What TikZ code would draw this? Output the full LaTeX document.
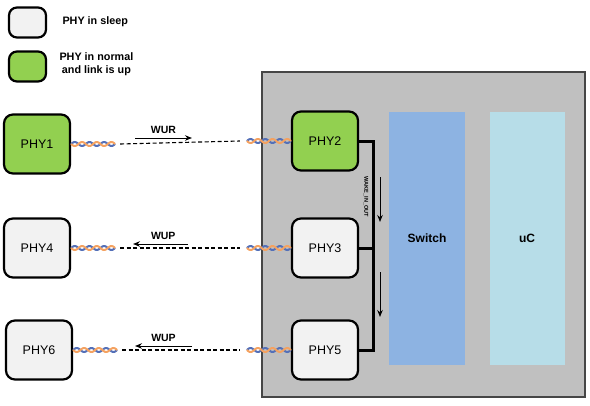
\documentclass[tikz,border=0pt]{standalone}
\usepackage{fontspec}
\setmainfont{Liberation Sans}
\usetikzlibrary{calc, arrows.meta}

\definecolor{boxgray}{HTML}{C0C0C0}
\definecolor{sleepgray}{HTML}{F2F2F2}
\definecolor{linkgreen}{HTML}{92D050}
\definecolor{switchblue}{HTML}{8DB3E2}
\definecolor{ucblue}{HTML}{B7DDE8}
\definecolor{cableorange}{HTML}{F4A261}
\definecolor{cableblue}{HTML}{5470B8}

% twisted pair cable, 44 units long, starting at #1
\newcommand{\twistpair}[1]{
    \begin{scope}[shift={(#1)}]
        \draw[cableblue, line width=2pt] plot[domain=0:44, samples=60, smooth] (\x, {-2*sin(\x*360/14.67)});
        \draw[cableorange, line width=2pt] plot[domain=0:44, samples=60, smooth] (\x, {2*sin(\x*360/14.67)});
    \end{scope}
}

\begin{document}
\begin{tikzpicture}[x=1pt, y=-1pt,
    phy/.style={draw, line width=2.2pt, rounded corners=9pt, minimum width=66pt, minimum height=59pt,
        font=\fontsize{12.5}{14}\selectfont},
    sleep/.style={phy, fill=sleepgray},
    awake/.style={phy, fill=linkgreen},
    legbox/.style={draw, line width=2.2pt, rounded corners=8pt, minimum width=37pt, minimum height=30pt},
    legtext/.style={font=\fontsize{10.8}{13.5}\selectfont\bfseries, align=center},
    wire/.style={dash pattern=on 4pt off 2.5pt, line width=1.1pt},
    signal/.style={-{Stealth[length=7pt, width=5.5pt]}, line width=1pt},
    sigtext/.style={font=\fontsize{10.5}{12}\selectfont\bfseries},
    bus/.style={line width=3pt}]
    \useasboundingbox (0,0) rectangle (590,405);

    % legend
    \node[legbox, fill=sleepgray] (legsleep) at (27.5,22.5) {};
    \node[legbox, fill=linkgreen] (leglink) at (27.5,66.5) {};
    \node[legtext, anchor=west] (legsleeptext) at (59,22) {PHY in sleep};
    \node[legtext, anchor=west] (leglinktext) at (56,64) {PHY in normal\\and link is up};

    % ECU box
    \draw[fill=boxgray, draw=gray!55!black, line width=1.4pt] (262,72) rectangle (585,397);
    \node[fill=switchblue, minimum width=76pt, minimum height=253pt, font=\fontsize{12}{14}\selectfont\bfseries] (switch) at (427,238.5) {Switch};
    \node[fill=ucblue, minimum width=75pt, minimum height=253pt, font=\fontsize{12}{14}\selectfont\bfseries] (uc) at (527,238.5) {uC};

    % PHYs
    \node[awake] (phy1) at (37,144) {PHY1};
    \node[awake] (phy2) at (325,141) {PHY2};
    \node[sleep] (phy4) at (37,248) {PHY4};
    \node[sleep] (phy3) at (325,248) {PHY3};
    \node[sleep] (phy6) at (39,350) {PHY6};
    \node[sleep] (phy5) at (325,350) {PHY5};

    % cables
    \twistpair{phy1.east}
    \twistpair{$(phy2.west)+(-44,0)$}
    \twistpair{phy4.east}
    \twistpair{$(phy3.west)+(-44,0)$}
    \twistpair{phy6.east}
    \twistpair{$(phy5.west)+(-44,0)$}
    \draw[wire] ($(phy1.east)+(49,0)$) -- ($(phy2.west)+(-51,0)$);
    \draw[wire] ($(phy4.east)+(49,0)$) -- ($(phy3.west)+(-51,0)$);
    \draw[wire] ($(phy6.east)+(49,0)$) -- ($(phy5.west)+(-51,0)$);

    % wake signals
    \coordinate (wur1) at (135,138);
    \coordinate (wur2) at (192,138);
    \coordinate (wup3) at (188,244);
    \coordinate (wup4) at (133,244);
    \coordinate (wup5) at (192,346);
    \coordinate (wup6) at (135,346);
    \draw[signal] (wur1) -- (wur2) node[midway, above=1pt, sigtext] (wurtext) {WUR};
    \draw[signal] (wup3) -- (wup4) node[pos=0.45, above=1pt, sigtext] (wuptext1) {WUP};
    \draw[signal] (wup5) -- (wup6) node[midway, above=1pt, sigtext] (wuptext2) {WUP};

    % WAKE_IN_OUT line
    \coordinate (busend) at (373,350);
    \draw[bus] (phy2.east) -| (busend) -- (phy5.east);
    \draw[bus] (phy3.east) -- (phy3.east -| busend);
    \node[rotate=-90, font=\fontsize{5.6}{6}\selectfont\bfseries] (wakeio) at (366,197) {WAKE\_IN\_OUT};
    \coordinate (down1) at (380,177);
    \coordinate (down2) at (380,222);
    \coordinate (down3) at (380,272);
    \coordinate (down4) at (380,317);
    \draw[signal] (down1) -- (down2);
    \draw[signal] (down3) -- (down4);
\end{tikzpicture}
\end{document}
